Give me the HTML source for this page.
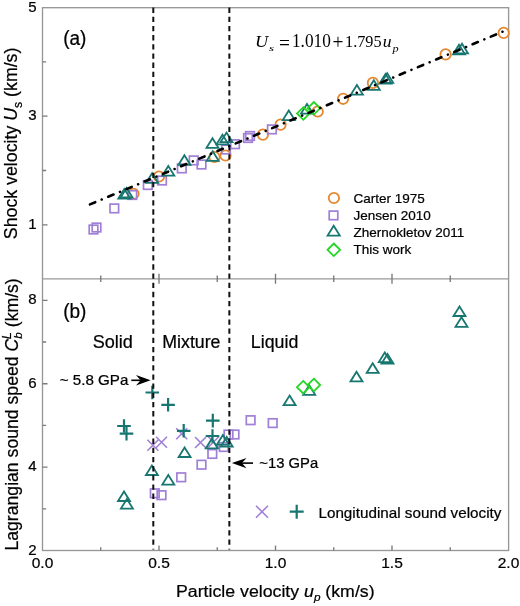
<!DOCTYPE html><html><head><meta charset="utf-8"><title>Shock velocity and sound speed vs particle velocity</title><style>html,body{margin:0;padding:0;background:#fff;width:520px;height:606px;overflow:hidden}svg{display:block}svg text{fill:#000;stroke:#000;stroke-width:0.22px}svg text[font-family*=Serif]{stroke:none}</style></head><body><svg width="520" height="606" viewBox="0 0 520 606">
<rect width="520" height="606" fill="#fff"/>
<g stroke="#979797" stroke-width="1.35" fill="none"><rect x="42.5" y="7.7" width="466.1" height="542.8"/><path d="M42.5 278.8H508.6"/><path d="M100.75 275.6V282.0 M100.75 550.5V547.3 M159.00 273.8V283.8 M159.00 550.5V545.5 M217.25 275.6V282.0 M217.25 550.5V547.3 M275.50 273.8V283.8 M275.50 550.5V545.5 M333.75 275.6V282.0 M333.75 550.5V547.3 M392.00 273.8V283.8 M392.00 550.5V545.5 M450.25 275.6V282.0 M450.25 550.5V547.3 M42.5 224.82H47.5 M42.5 170.49H46.1 M42.5 116.16H47.5 M42.5 61.83H46.1 M42.5 508.80H46.1 M42.5 467.10H47.5 M42.5 425.40H46.1 M42.5 383.70H47.5 M42.5 342.00H46.1 M42.5 300.30H47.5" stroke="#7a7a7a"/></g>
<circle cx="133.50" cy="193.80" r="5.2" fill="none" stroke="#E5872F" stroke-width="1.8"/>
<circle cx="159.00" cy="176.50" r="5.2" fill="none" stroke="#E5872F" stroke-width="1.8"/>
<circle cx="214.50" cy="157.00" r="5.2" fill="none" stroke="#E5872F" stroke-width="1.8"/>
<circle cx="225.50" cy="155.50" r="5.2" fill="none" stroke="#E5872F" stroke-width="1.8"/>
<circle cx="262.90" cy="134.60" r="5.2" fill="none" stroke="#E5872F" stroke-width="1.8"/>
<circle cx="280.60" cy="124.60" r="5.2" fill="none" stroke="#E5872F" stroke-width="1.8"/>
<circle cx="317.70" cy="111.50" r="5.2" fill="none" stroke="#E5872F" stroke-width="1.8"/>
<circle cx="343.10" cy="98.80" r="5.2" fill="none" stroke="#E5872F" stroke-width="1.8"/>
<circle cx="372.90" cy="82.90" r="5.2" fill="none" stroke="#E5872F" stroke-width="1.8"/>
<circle cx="445.60" cy="54.40" r="5.2" fill="none" stroke="#E5872F" stroke-width="1.8"/>
<circle cx="503.70" cy="32.90" r="5.2" fill="none" stroke="#E5872F" stroke-width="1.8"/>
<rect x="89.20" y="225.20" width="8.6" height="8.6" fill="none" stroke="#A07FD6" stroke-width="1.7"/>
<rect x="92.20" y="223.20" width="8.6" height="8.6" fill="none" stroke="#A07FD6" stroke-width="1.7"/>
<rect x="110.00" y="204.10" width="8.6" height="8.6" fill="none" stroke="#A07FD6" stroke-width="1.7"/>
<rect x="128.00" y="190.70" width="8.6" height="8.6" fill="none" stroke="#A07FD6" stroke-width="1.7"/>
<rect x="143.50" y="180.70" width="8.6" height="8.6" fill="none" stroke="#A07FD6" stroke-width="1.7"/>
<rect x="157.70" y="176.20" width="8.6" height="8.6" fill="none" stroke="#A07FD6" stroke-width="1.7"/>
<rect x="177.50" y="164.10" width="8.6" height="8.6" fill="none" stroke="#A07FD6" stroke-width="1.7"/>
<rect x="189.40" y="156.10" width="8.6" height="8.6" fill="none" stroke="#A07FD6" stroke-width="1.7"/>
<rect x="197.20" y="160.20" width="8.6" height="8.6" fill="none" stroke="#A07FD6" stroke-width="1.7"/>
<rect x="221.70" y="145.20" width="8.6" height="8.6" fill="none" stroke="#A07FD6" stroke-width="1.7"/>
<rect x="230.70" y="139.90" width="8.6" height="8.6" fill="none" stroke="#A07FD6" stroke-width="1.7"/>
<rect x="243.70" y="133.70" width="8.6" height="8.6" fill="none" stroke="#A07FD6" stroke-width="1.7"/>
<rect x="245.70" y="131.70" width="8.6" height="8.6" fill="none" stroke="#A07FD6" stroke-width="1.7"/>
<rect x="267.60" y="125.10" width="8.6" height="8.6" fill="none" stroke="#A07FD6" stroke-width="1.7"/>
<path d="M124.30 189.00L130.30 198.60L118.30 198.60Z" fill="none" stroke="#177670" stroke-width="1.8"/>
<path d="M126.60 187.90L132.60 197.50L120.60 197.50Z" fill="none" stroke="#177670" stroke-width="1.8"/>
<path d="M152.10 173.20L158.10 182.80L146.10 182.80Z" fill="none" stroke="#177670" stroke-width="1.8"/>
<path d="M168.30 166.00L174.30 175.60L162.30 175.60Z" fill="none" stroke="#177670" stroke-width="1.8"/>
<path d="M184.40 155.30L190.40 164.90L178.40 164.90Z" fill="none" stroke="#177670" stroke-width="1.8"/>
<path d="M212.50 138.20L218.50 147.80L206.50 147.80Z" fill="none" stroke="#177670" stroke-width="1.8"/>
<path d="M212.70 151.20L218.70 160.80L206.70 160.80Z" fill="none" stroke="#177670" stroke-width="1.8"/>
<path d="M226.50 132.60L232.50 142.20L220.50 142.20Z" fill="none" stroke="#177670" stroke-width="1.8"/>
<path d="M222.50 134.70L228.50 144.30L216.50 144.30Z" fill="none" stroke="#177670" stroke-width="1.8"/>
<path d="M288.80 110.50L294.80 120.10L282.80 120.10Z" fill="none" stroke="#177670" stroke-width="1.8"/>
<path d="M307.00 104.00L313.00 113.60L301.00 113.60Z" fill="none" stroke="#177670" stroke-width="1.8"/>
<path d="M356.90 85.00L362.90 94.60L350.90 94.60Z" fill="none" stroke="#177670" stroke-width="1.8"/>
<path d="M373.80 80.20L379.80 89.80L367.80 89.80Z" fill="none" stroke="#177670" stroke-width="1.8"/>
<path d="M385.50 74.00L391.50 83.60L379.50 83.60Z" fill="none" stroke="#177670" stroke-width="1.8"/>
<path d="M387.20 73.20L393.20 82.80L381.20 82.80Z" fill="none" stroke="#177670" stroke-width="1.8"/>
<path d="M459.00 44.70L465.00 54.30L453.00 54.30Z" fill="none" stroke="#177670" stroke-width="1.8"/>
<path d="M462.00 43.70L468.00 53.30L456.00 53.30Z" fill="none" stroke="#177670" stroke-width="1.8"/>
<path d="M303.30 107.20L309.60 113.50L303.30 119.80L297.00 113.50Z" fill="none" stroke="#26D526" stroke-width="1.8"/>
<path d="M313.80 102.00L320.10 108.30L313.80 114.60L307.50 108.30Z" fill="none" stroke="#26D526" stroke-width="1.8"/>
<rect x="176.90" y="473.00" width="8.6" height="8.6" fill="none" stroke="#A07FD6" stroke-width="1.7"/>
<rect x="197.20" y="460.40" width="8.6" height="8.6" fill="none" stroke="#A07FD6" stroke-width="1.7"/>
<rect x="150.50" y="489.00" width="8.6" height="8.6" fill="none" stroke="#A07FD6" stroke-width="1.7"/>
<rect x="157.20" y="490.90" width="8.6" height="8.6" fill="none" stroke="#A07FD6" stroke-width="1.7"/>
<rect x="208.00" y="449.60" width="8.6" height="8.6" fill="none" stroke="#A07FD6" stroke-width="1.7"/>
<rect x="224.20" y="430.20" width="8.6" height="8.6" fill="none" stroke="#A07FD6" stroke-width="1.7"/>
<rect x="230.20" y="430.20" width="8.6" height="8.6" fill="none" stroke="#A07FD6" stroke-width="1.7"/>
<rect x="246.30" y="415.90" width="8.6" height="8.6" fill="none" stroke="#A07FD6" stroke-width="1.7"/>
<rect x="268.40" y="418.80" width="8.6" height="8.6" fill="none" stroke="#A07FD6" stroke-width="1.7"/>
<rect x="219.50" y="442.70" width="8.6" height="8.6" fill="none" stroke="#A07FD6" stroke-width="1.7"/>
<path d="M147.40 439.70L158.40 450.70M158.40 439.70L147.40 450.70" stroke="#A07FD6" stroke-width="1.6"/>
<path d="M156.00 436.80L167.00 447.80M167.00 436.80L156.00 447.80" stroke="#A07FD6" stroke-width="1.6"/>
<path d="M176.20 428.20L187.20 439.20M187.20 428.20L176.20 439.20" stroke="#A07FD6" stroke-width="1.6"/>
<path d="M195.00 437.00L206.00 448.00M206.00 437.00L195.00 448.00" stroke="#A07FD6" stroke-width="1.6"/>
<path d="M208.00 436.50L219.00 447.50M219.00 436.50L208.00 447.50" stroke="#A07FD6" stroke-width="1.6"/>
<path d="M184.60 447.40L190.60 457.00L178.60 457.00Z" fill="none" stroke="#177670" stroke-width="1.8"/>
<path d="M151.90 465.40L157.90 475.00L145.90 475.00Z" fill="none" stroke="#177670" stroke-width="1.8"/>
<path d="M168.30 475.00L174.30 484.60L162.30 484.60Z" fill="none" stroke="#177670" stroke-width="1.8"/>
<path d="M124.00 491.40L130.00 501.00L118.00 501.00Z" fill="none" stroke="#177670" stroke-width="1.8"/>
<path d="M126.90 499.00L132.90 508.60L120.90 508.60Z" fill="none" stroke="#177670" stroke-width="1.8"/>
<path d="M211.80 438.80L217.80 448.40L205.80 448.40Z" fill="none" stroke="#177670" stroke-width="1.8"/>
<path d="M222.90 435.00L228.90 444.60L216.90 444.60Z" fill="none" stroke="#177670" stroke-width="1.8"/>
<path d="M226.70 436.90L232.70 446.50L220.70 446.50Z" fill="none" stroke="#177670" stroke-width="1.8"/>
<path d="M289.60 395.60L295.60 405.20L283.60 405.20Z" fill="none" stroke="#177670" stroke-width="1.8"/>
<path d="M309.20 385.20L315.20 394.80L303.20 394.80Z" fill="none" stroke="#177670" stroke-width="1.8"/>
<path d="M356.50 371.80L362.50 381.40L350.50 381.40Z" fill="none" stroke="#177670" stroke-width="1.8"/>
<path d="M372.70 363.30L378.70 372.90L366.70 372.90Z" fill="none" stroke="#177670" stroke-width="1.8"/>
<path d="M384.80 352.50L390.80 362.10L378.80 362.10Z" fill="none" stroke="#177670" stroke-width="1.8"/>
<path d="M387.50 353.90L393.50 363.50L381.50 363.50Z" fill="none" stroke="#177670" stroke-width="1.8"/>
<path d="M459.50 306.40L465.50 316.00L453.50 316.00Z" fill="none" stroke="#177670" stroke-width="1.8"/>
<path d="M461.50 317.20L467.50 326.80L455.50 326.80Z" fill="none" stroke="#177670" stroke-width="1.8"/>
<path d="M303.20 380.90L309.50 387.20L303.20 393.50L296.90 387.20Z" fill="none" stroke="#26D526" stroke-width="1.8"/>
<path d="M313.90 378.70L320.20 385.00L313.90 391.30L307.60 385.00Z" fill="none" stroke="#26D526" stroke-width="1.8"/>
<path d="M145.50 392.50H159.10M152.30 385.70V399.30" stroke="#177670" stroke-width="2.2"/>
<path d="M161.30 404.80H174.90M168.10 398.00V411.60" stroke="#177670" stroke-width="2.2"/>
<path d="M117.20 426.00H130.80M124.00 419.20V432.80" stroke="#177670" stroke-width="2.2"/>
<path d="M119.70 433.70H133.30M126.50 426.90V440.50" stroke="#177670" stroke-width="2.2"/>
<path d="M176.90 430.80H190.50M183.70 424.00V437.60" stroke="#177670" stroke-width="2.2"/>
<path d="M206.00 420.60H219.60M212.80 413.80V427.40" stroke="#177670" stroke-width="2.2"/>
<path d="M205.70 436.00H219.30M212.50 429.20V442.80" stroke="#177670" stroke-width="2.2"/>
<path d="M153.3 7.6V549.5" stroke="#111" stroke-width="2" stroke-dasharray="5.3 3.87"/>
<path d="M229.35 7.6V549.5" stroke="#111" stroke-width="2" stroke-dasharray="5.3 3.87"/>
<path d="M90.00 204.40L508.50 29.23" stroke="#000" stroke-width="2.6" stroke-linecap="round" stroke-dasharray="5.7 7.0 0.01 7.04"/>
<circle cx="333.90" cy="198.00" r="5.2" fill="none" stroke="#E5872F" stroke-width="1.8"/>
<rect x="329.20" y="211.10" width="8.6" height="8.6" fill="none" stroke="#A07FD6" stroke-width="1.7"/>
<path d="M333.70 225.80L339.80 235.60L327.60 235.60Z" fill="none" stroke="#177670" stroke-width="1.8"/>
<path d="M333.80 243.50L340.10 249.80L333.80 256.10L327.50 249.80Z" fill="none" stroke="#26D526" stroke-width="1.8"/>
<path d="M256.00 505.70L268.00 517.70M268.00 505.70L256.00 517.70" stroke="#A07FD6" stroke-width="1.6"/>
<path d="M289.70 511.70H303.70M296.70 504.70V518.70" stroke="#177670" stroke-width="2.2"/>
<path d="M131.3 380.3L141.6 380.3" stroke="#000" stroke-width="1.6"/><path d="M150.6 380.3L136.0 375.1L140.6 380.3L136.0 385.5Z" fill="#000"/>
<path d="M253 463.1L240.9 463.1" stroke="#000" stroke-width="1.6"/><path d="M231.9 463.1L246.5 457.90000000000003L241.9 463.1L246.5 468.3Z" fill="#000"/>
<text x="36.6" y="11.50" font-size="15" text-anchor="end" font-family="'Liberation Sans', Arial, Helvetica, sans-serif">5</text>
<text x="36.6" y="120.16" font-size="15" text-anchor="end" font-family="'Liberation Sans', Arial, Helvetica, sans-serif">3</text>
<text x="36.6" y="228.82" font-size="15" text-anchor="end" font-family="'Liberation Sans', Arial, Helvetica, sans-serif">1</text>
<text x="36.6" y="554.50" font-size="15" text-anchor="end" font-family="'Liberation Sans', Arial, Helvetica, sans-serif">2</text>
<text x="36.6" y="471.10" font-size="15" text-anchor="end" font-family="'Liberation Sans', Arial, Helvetica, sans-serif">4</text>
<text x="36.6" y="387.70" font-size="15" text-anchor="end" font-family="'Liberation Sans', Arial, Helvetica, sans-serif">6</text>
<text x="36.6" y="304.30" font-size="15" text-anchor="end" font-family="'Liberation Sans', Arial, Helvetica, sans-serif">8</text>
<text x="42.50" y="568.4" font-size="15.5" text-anchor="middle" font-family="'Liberation Sans', Arial, Helvetica, sans-serif">0.0</text>
<text x="159.00" y="568.4" font-size="15.5" text-anchor="middle" font-family="'Liberation Sans', Arial, Helvetica, sans-serif">0.5</text>
<text x="275.50" y="568.4" font-size="15.5" text-anchor="middle" font-family="'Liberation Sans', Arial, Helvetica, sans-serif">1.0</text>
<text x="392.00" y="568.4" font-size="15.5" text-anchor="middle" font-family="'Liberation Sans', Arial, Helvetica, sans-serif">1.5</text>
<text x="508.50" y="568.4" font-size="15.5" text-anchor="middle" font-family="'Liberation Sans', Arial, Helvetica, sans-serif">2.0</text>
<text transform="translate(63.21 44.75) scale(0.9755 1.0)" font-family="'Liberation Sans', Arial, Helvetica, sans-serif" font-size="19.5">(a)</text>
<text transform="translate(63.21 317.5) scale(0.9755 1.0)" font-family="'Liberation Sans', Arial, Helvetica, sans-serif" font-size="19.5">(b)</text>
<text transform="translate(92.74 348.03) scale(1.0042 1.0126)" font-family="'Liberation Sans', Arial, Helvetica, sans-serif" font-size="18">Solid</text>
<text transform="translate(162.27 348.0) scale(0.9871 1.0077)" font-family="'Liberation Sans', Arial, Helvetica, sans-serif" font-size="18">Mixture</text>
<text transform="translate(250.87 347.78) scale(0.988 0.9829)" font-family="'Liberation Sans', Arial, Helvetica, sans-serif" font-size="18">Liquid</text>
<text transform="translate(59.76 385.4) scale(1.1221 1.0667)" font-family="'Liberation Sans', Arial, Helvetica, sans-serif" font-size="13.5">~ 5.8 GPa</text>
<text transform="translate(259.29 467.9) scale(1.0978 1.0889)" font-family="'Liberation Sans', Arial, Helvetica, sans-serif" font-size="13.5">~13 GPa</text>
<text transform="translate(318.45 517.51) scale(1.0165 1.0286)" font-family="'Liberation Sans', Arial, Helvetica, sans-serif" font-size="15">Longitudinal sound velocity</text>
<text transform="translate(255.07 46.83) scale(1.1041 1.075)" font-family="'Liberation Serif', 'Times New Roman', serif" font-size="16.5" font-style="italic">U</text>
<text transform="translate(269.02 51.34) scale(1.3122 0.8722)" font-family="'Liberation Serif', 'Times New Roman', serif" font-size="10" font-style="italic">s</text>
<text transform="translate(278.93 49.87) scale(1.1748 1.2543)" font-family="'Liberation Serif', 'Times New Roman', serif" font-size="16.5">=</text>
<text transform="translate(292.0 46.8) scale(1.0465 1.0791)" font-family="'Liberation Serif', 'Times New Roman', serif" font-size="16.5">1.010</text>
<text transform="translate(332.53 49.38) scale(1.1748 1.3332)" font-family="'Liberation Serif', 'Times New Roman', serif" font-size="16.5">+</text>
<text transform="translate(345.02 46.8) scale(0.9836 1.0727)" font-family="'Liberation Serif', 'Times New Roman', serif" font-size="16.5">1.795</text>
<text transform="translate(382.81 46.95) scale(1.0662 0.9808)" font-family="'Liberation Serif', 'Times New Roman', serif" font-size="16.5" font-style="italic">u</text>
<text transform="translate(392.38 51.74) scale(1.2292 1.025)" font-family="'Liberation Serif', 'Times New Roman', serif" font-size="10" font-style="italic">p</text>
<text transform="translate(176.05 596.5) scale(1.025 1.0)" font-family="'Liberation Sans', Arial, Helvetica, sans-serif" font-size="17.3">Particle velocity <tspan font-style="italic">u</tspan><tspan font-style="italic" font-size="11.5" dy="4">p</tspan><tspan dy="-4"> (km/s)</tspan></text>
<text x="353.5" y="202.60" font-size="13.5" text-anchor="start" font-family="'Liberation Sans', Arial, Helvetica, sans-serif">Carter 1975</text>
<text x="353.5" y="219.85" font-size="13.5" text-anchor="start" font-family="'Liberation Sans', Arial, Helvetica, sans-serif">Jensen 2010</text>
<text x="353.5" y="237.10" font-size="13.5" text-anchor="start" font-family="'Liberation Sans', Arial, Helvetica, sans-serif">Zhernokletov 2011</text>
<text x="353.5" y="254.35" font-size="13.5" text-anchor="start" font-family="'Liberation Sans', Arial, Helvetica, sans-serif">This work</text>
<text transform="translate(17.3 239.2) rotate(-90) scale(1.015 1)" font-size="17.5" font-family="'Liberation Sans', Arial, Helvetica, sans-serif">Shock velocity <tspan font-style="italic">U</tspan><tspan font-size="12" dy="4.5">s</tspan><tspan dy="-4.5"> (km/s)</tspan></text>
<text transform="translate(17.6 550.6) rotate(-90) scale(1.009 1)" font-size="17.5" font-family="'Liberation Sans', Arial, Helvetica, sans-serif">Lagrangian sound speed <tspan font-style="italic">C</tspan><tspan font-style="italic" font-size="11.5" dy="4.5">b</tspan><tspan font-style="italic" font-size="12.5" dx="-6.8" dy="-11.5">L</tspan><tspan dy="7"> (km/s)</tspan></text>
</svg></body></html>
